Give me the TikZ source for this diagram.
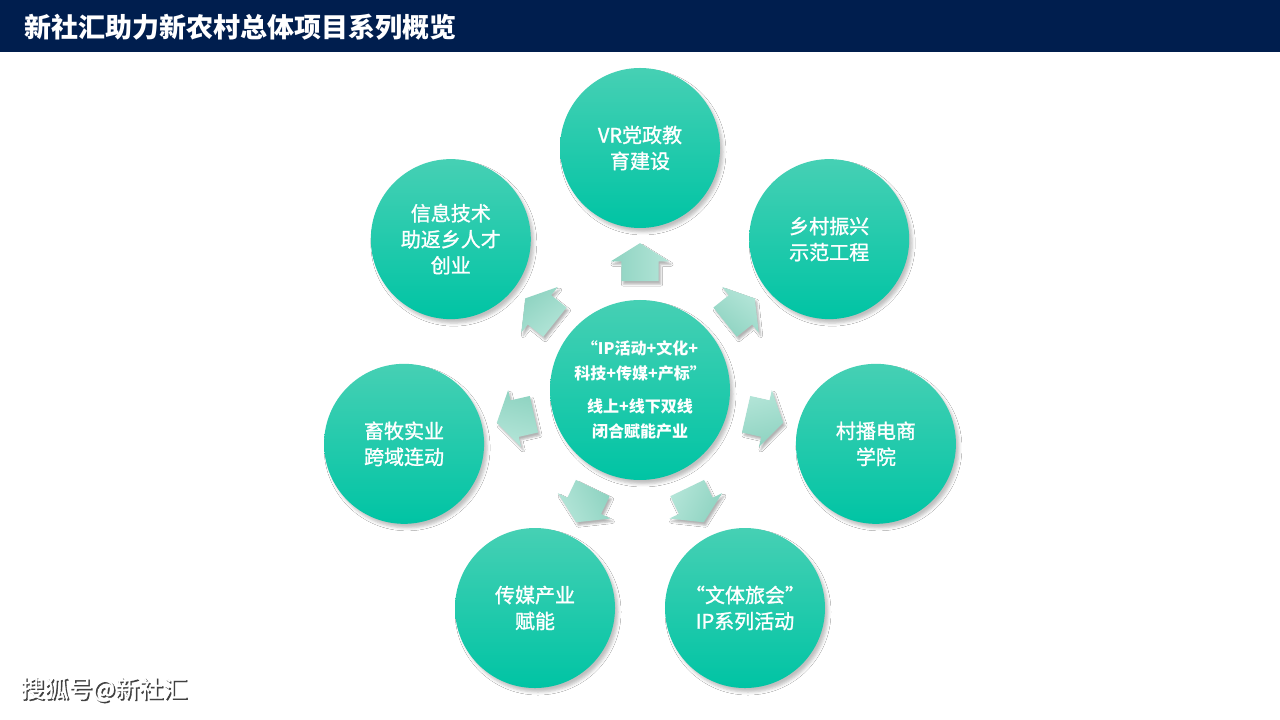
\documentclass[tikz,border=0pt]{standalone}
\usepackage{fontspec}
\setmainfont{Noto Sans CJK SC}
\newfontfamily\medcjk{Noto Sans CJK SC}[FakeBold=1.3]
\usetikzlibrary{shapes.arrows,shadows.blur,calc}
\definecolor{navy}{RGB}{0,30,78}
\definecolor{tealtop}{RGB}{70,208,180}
\definecolor{tealbot}{RGB}{0,196,164}
\definecolor{arrtop}{RGB}{180,229,216}
\definecolor{arrbot}{RGB}{142,211,193}
\begin{document}
\begin{tikzpicture}[x=1pt,y=1pt,
  bubble/.style={circle, minimum size=160pt, inner sep=0pt, top color=tealtop, bottom color=tealbot,
    text=white, align=center, font=\medcjk\fontsize{20}{26}\selectfont,
    blur shadow={shadow xshift=3pt, shadow yshift=-4pt, shadow blur radius=3pt, shadow opacity=25}},
  hub/.style={bubble, minimum size=180pt, font=\bfseries\fontsize{16}{25}\selectfont},
  blockarr/.style={single arrow, draw=none, minimum height=38pt,
    single arrow head extend=10.5pt, single arrow tip angle=116, inner xsep=0pt, inner ysep=18.5pt,
    top color=arrtop, bottom color=arrbot,
    blur shadow={shadow xshift=2pt, shadow yshift=-3pt, shadow blur radius=2pt, shadow opacity=30}},
  titletext/.style={anchor=west, text=white, font=\bfseries\fontsize{27}{30}\selectfont},
  marktext/.style={anchor=west, font=\medcjk\fontsize{24}{28}\selectfont}
]
\useasboundingbox (0,0) rectangle (1280,720);
\fill[white] (0,0) rectangle (1280,720);
\fill[navy] (0,668) rectangle (1280,720);
\node[titletext] (title) at (21,693) {新社汇助力新农村总体项目系列概览};

\coordinate (o) at (640,330);
\node[bubble] (c1) at ($(o)+(90:242)$) {VR党政教\\育建设};
\node[bubble] (c2) at ($(o)+(38.571:242)$) {乡村振兴\\示范工程};
\node[bubble] (c3) at ($(o)+(-12.857:242)$) {村播电商\\学院};
\node[bubble] (c4) at ($(o)+(-64.286:242)$) {“文体旅会”\\IP系列活动};
\node[bubble] (c5) at ($(o)+(-115.714:242)$) {传媒产业\\赋能};
\node[bubble] (c6) at ($(o)+(-167.143:242)$) {畜牧实业\\跨域连动};
\node[bubble] (c7) at ($(o)+(141.429:242)$) {信息技术\\助返乡人才\\创业};

\node[hub] (ctr) at (o) {“IP活动+文化+\\科技+传媒+产标”\\[8pt]线上+线下双线\\闭合赋能产业};

\foreach \k/\a in {1/90,2/38.571,3/-12.857,4/-64.286,5/-115.714,6/-167.143,7/141.429}{
  \node[blockarr, rotate=\a, shading angle=-\a] (a\k) at ($(o)+(\a:122)$) {};
}

\node[marktext, text=black!75] (wm0) at (18.5,29) {搜狐号@新社汇};
\node[marktext, text=white] (wm) at (17,30.5) {搜狐号@新社汇};
\end{tikzpicture}
\end{document}
